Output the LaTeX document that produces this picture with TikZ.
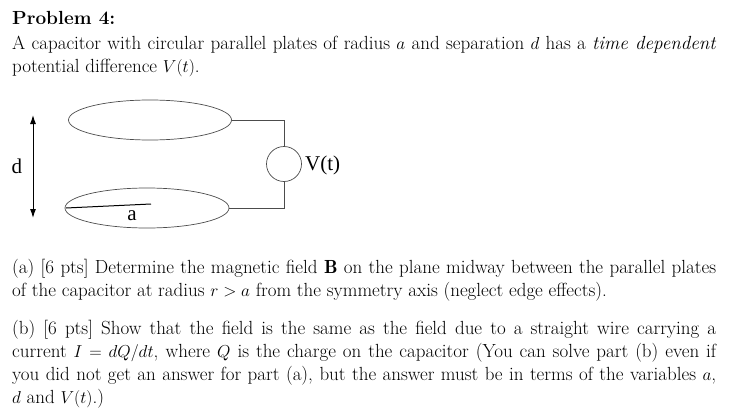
\documentclass[tikz,border=0pt]{standalone}
\usepackage{fontspec}
\newfontfamily\lbfont{Liberation Serif}
\usetikzlibrary{shapes.geometric,arrows.meta}
\begin{document}
\begin{tikzpicture}[x=1pt,y=-1pt,
  ln/.style={anchor=base west,inner sep=0pt,font=\fontsize{19}{23}\selectfont},
  lb/.style={font=\lbfont\fontsize{21}{23}\selectfont,inner sep=0pt},
  plate/.style={draw=black!70,line width=0.7pt},
  wire/.style={draw=black!70,line width=0.7pt}]
\useasboundingbox (0,0) rectangle (736,420);
\newcommand{\jl}[1]{\makebox[704pt][s]{#1}}
\node[ln] (t0) at (12,25) {\textbf{Problem 4:}};
\node[ln] (t1) at (12,50) {\jl{A capacitor with circular parallel plates of radius $a$ and separation $d$ has a \emph{time dependent}}};
\node[ln] (t2) at (12,73) {potential difference $V(t)$.};
\node[ln] (a1) at (12,273) {\jl{(a) [6 pts] Determine the magnetic field $\mathbf{B}$ on the plane midway between the parallel plates}};
\node[ln] (a2) at (12,296) {of the capacitor at radius $r>a$ from the symmetry axis (neglect edge effects).};
\node[ln] (b1) at (12,334) {\jl{(b) [6 pts] Show that the field is the same as the field due to a straight wire carrying a}};
\node[ln] (b2) at (12,357) {\jl{current $I=dQ/dt$, where $Q$ is the charge on the capacitor (You can solve part (b) even if}};
\node[ln] (b3) at (12,380) {\jl{you did not get an answer for part (a), but the answer must be in terms of the variables $a$,}};
\node[ln] (b4) at (12,403) {$d$ and $V(t)$.)};
% diagram
\node[plate,ellipse,minimum width=163pt,minimum height=40pt,inner sep=0pt] (top) at (150,120) {};
\node[plate,ellipse,minimum width=164pt,minimum height=40pt,inner sep=0pt] (bot) at (147,208) {};
\node[wire,circle,minimum size=35pt,inner sep=0pt] (src) at (284,164) {};
\coordinate (c1) at (284,120);
\coordinate (c2) at (284,208);
\draw[wire] (top.east) -- (c1) -- (src.north);
\draw[wire] (bot.east) -- (c2) -- (src.south);
\node[lb,anchor=west] (v) at (305,165) {V(t)};
\coordinate (d1) at (33,115);
\coordinate (d2) at (33,218);
\draw[line width=1pt,-{Latex[length=9pt,width=6pt]}] (33,166) -- (d1);
\draw[line width=1pt,-{Latex[length=9pt,width=6pt]}] (33,166) -- (d2);
\node[lb] (d) at (17,166) {d};
\coordinate (r1) at (66,208);
\coordinate (r2) at (151,204);
\draw[line width=1pt] (r1) -- (r2);
\node[lb] (alab) at (132,216) {a};
\end{tikzpicture}
\end{document}
